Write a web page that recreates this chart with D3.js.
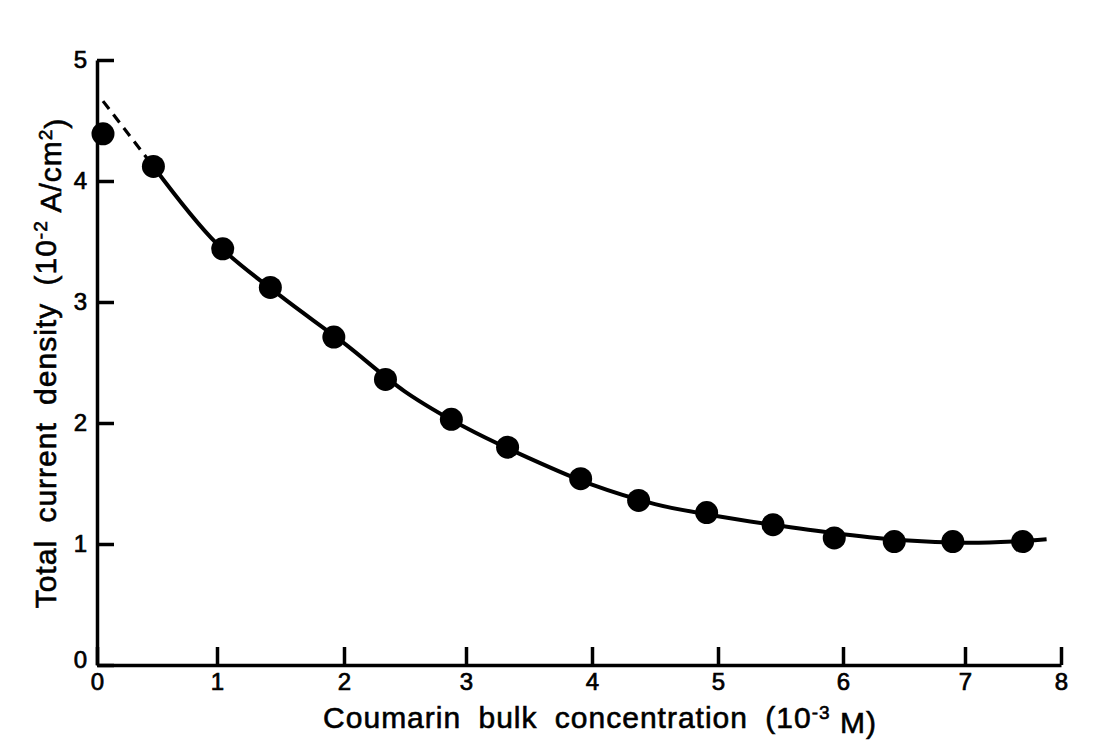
<!DOCTYPE html>
<html>
<head>
<meta charset="utf-8">
<script src="https://cdn.jsdelivr.net/npm/d3@7"></script>
<style>
  html, body { margin: 0; padding: 0; background: #fff; }
  svg { display: block; font-family: 'Liberation Sans', Arial, sans-serif; }
</style>
</head>
<body>
<svg id="chart" width="1113" height="742"></svg>
<script>
// measured points (concentration in 10^-3 M, current density in 10^-2 A/cm2)
const concentration = [0.05, 0.47, 1.045, 1.42, 1.92, 2.34, 2.88, 3.33, 3.91, 4.37, 4.91, 5.44, 5.93, 6.42, 6.90, 7.60];
const currentDensity = [4.39, 4.12, 3.44, 3.12, 2.71, 2.36, 2.03, 1.80, 1.54, 1.36, 1.26, 1.16, 1.05, 1.02, 1.02, 1.02];

// fitted solid curve
const fitX = [0.47, 1.0, 1.5, 2.0, 2.5, 3.0, 3.5, 4.0, 4.5, 5.0, 5.5, 6.0, 6.5, 7.0, 7.5, 7.85];
const fitY = [4.12, 3.48, 3.05, 2.66, 2.26, 1.96, 1.71, 1.49, 1.33, 1.23, 1.15, 1.08, 1.03, 1.01, 1.02, 1.04];

// dashed extrapolation to zero concentration
const dashX = [0.05, 0.47];
const dashY = [4.66, 4.12];

const xTicks = [0, 1, 2, 3, 4, 5, 6, 7, 8];
const yTicks = [0, 1, 2, 3, 4, 5];

const svg = d3.select('#chart');

// the printed axis is not quite even, so the x scale follows the printed ticks
const x = d3.scaleLinear()
  .domain(xTicks)
  .range([97, 217, 344, 466, 592, 718, 843, 965, 1061]);
const y = d3.scaleLinear().domain([0, 5]).range([665, 60]);

// axes, ticks pointing inwards
const yAxis = svg.append('g')
  .attr('transform', `translate(${x(0)},0)`)
  .call(d3.axisLeft(y).tickValues(yTicks).tickFormat(d3.format('d'))
    .tickSizeInner(-17).tickSizeOuter(0).tickPadding(10));

const xAxis = svg.append('g')
  .attr('transform', `translate(0,${y(0)})`)
  .call(d3.axisBottom(x).tickValues(xTicks).tickFormat(d3.format('d'))
    .tickSizeInner(-18).tickSizeOuter(0).tickPadding(8));

[xAxis, yAxis].forEach((g) => {
  g.attr('font-size', null).attr('font-family', null);
  g.select('.domain').attr('stroke', '#000').attr('stroke-width', 3.5);
  g.selectAll('.tick line').attr('stroke', '#000').attr('stroke-width', 3.5);
  g.selectAll('.tick text')
    .attr('fill', '#000')
    .attr('stroke', '#000')
    .attr('stroke-width', 0.7)
    .attr('font-size', 24);
});
// y "0" sits a little above the x axis
yAxis.selectAll('.tick text').filter(d => d === 0).attr('dy', '0.1em');

const line = d3.line()
  .x(d => x(d[0]))
  .y(d => y(d[1]));

svg.append('path')
  .datum(dashX.map((v, i) => [v, dashY[i]]))
  .attr('d', line)
  .attr('fill', 'none')
  .attr('stroke', '#000')
  .attr('stroke-width', 3.2)
  .attr('stroke-dasharray', '10,7');

svg.append('path')
  .datum(fitX.map((v, i) => [v, fitY[i]]))
  .attr('d', line.curve(d3.curveCatmullRom))
  .attr('fill', 'none')
  .attr('stroke', '#000')
  .attr('stroke-width', 4);

svg.selectAll('.dot')
  .data(concentration.map((v, i) => [v, currentDensity[i]]))
  .enter().append('circle')
  .attr('class', 'dot')
  .attr('cx', d => x(d[0]))
  .attr('cy', d => y(d[1]))
  .attr('r', 11.5)
  .attr('fill', '#000');

// axis titles, slightly heavy like the scan
const titleStyle = (t) => t
  .attr('text-anchor', 'middle')
  .attr('fill', '#000')
  .attr('stroke', '#000')
  .attr('stroke-width', 0.6)
  .style('font-size', '30px')
  .style('letter-spacing', '1px')
  .style('word-spacing', '8px');

const xTitle = svg.append('text')
  .attr('x', 600)
  .attr('y', 728)
  .call(titleStyle);
xTitle.append('tspan').text('Coumarin bulk concentration (10');
xTitle.append('tspan').attr('dy', '-0.45em').style('font-size', '19px').text('-3');
xTitle.append('tspan').attr('dy', '0.45em').style('word-spacing', '0px').text(' M)');

const yTitle = svg.append('text')
  .attr('transform', 'translate(56,363)rotate(-90)')
  .call(titleStyle);
yTitle.append('tspan').text('Total current density (10');
yTitle.append('tspan').attr('dy', '-0.45em').style('font-size', '19px').text('-2');
yTitle.append('tspan').attr('dy', '0.45em').style('word-spacing', '0px').text(' A/cm');
yTitle.append('tspan').attr('dy', '-0.45em').style('font-size', '19px').text('2');
yTitle.append('tspan').attr('dy', '0.45em').text(')');
</script>
</body>
</html>
